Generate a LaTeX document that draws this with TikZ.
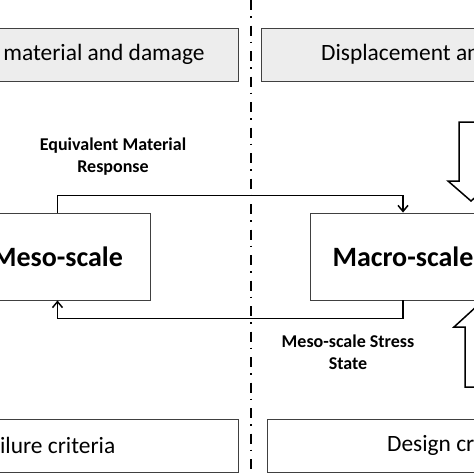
\documentclass[tikz,border=0pt]{standalone}
\usepackage{fontspec}
\setmainfont{Carlito}
\usetikzlibrary{arrows.meta}

\begin{document}
\begin{tikzpicture}[x=1pt,y=-1pt,
    graybox/.style={draw=black!75,line width=0.9pt,fill=black!7,minimum height=53pt,inner sep=0pt,font=\fontsize{23.4}{28}\selectfont},
    whitebox/.style={graybox,fill=white},
    scalebox/.style={draw=black!75,line width=0.9pt,fill=white,minimum height=87pt,inner sep=0pt,font=\bfseries\fontsize{28}{32}\selectfont},
    flow/.style={line width=1.8pt,-{Straight Barb[length=6pt,width=10pt,line width=1.5pt]}},
    flowlabel/.style={font=\bfseries\fontsize{18}{22}\selectfont,align=center},
    divider/.style={line width=1.5pt,dash pattern=on 10pt off 6pt on 1.5pt off 8pt},
    bigarrow/.style={draw,line width=1.5pt,fill=white}]
    \useasboundingbox (0,0) rectangle (474,474);
    \clip (0,0) rectangle (474,474);

    % split between the two sides
    \draw[divider] (251,0) -- (251,474);

    \node[graybox,minimum width=268pt] (matbox) at (104,54.5) {material and damage};
    \node[graybox,minimum width=291pt] (dispbox) at (406.5,54.5) {Displacement and};
    \node[scalebox,minimum width=185pt] (meso) at (57.5,256.5) {Meso-scale};
    \node[scalebox,minimum width=186pt] (macro) at (403,256.5) {Macro-scale};
    \node[whitebox,minimum width=382pt] (failbox) at (47,445.5) {Failure criteria};
    \node[whitebox,minimum width=375pt] (designbox) at (455.4,445.5) {Design criteria};

    \draw[flow] (meso.north) -- ++(0,-17) -| (macro.north);
    \draw[flow] (macro.south) -- ++(0,18) -| (meso.south);

    \node[flowlabel] (resp) at (113,157) {Equivalent Material\\Response};
    \node[flowlabel] (stress) at (348,352) {Meso-scale Stress\\State};

    % load arrows on the macro side
    \draw[bigarrow] (459,122) -- (483,122) -- (483,181) -- (494,181) -- (471,201) -- (448,181) -- (459,181) -- cycle;
    \draw[bigarrow] (465,387) -- (465,327) -- (454,327) -- (477,306) -- (500,327) -- (489,327) -- (489,387) -- cycle;
\end{tikzpicture}
\end{document}
